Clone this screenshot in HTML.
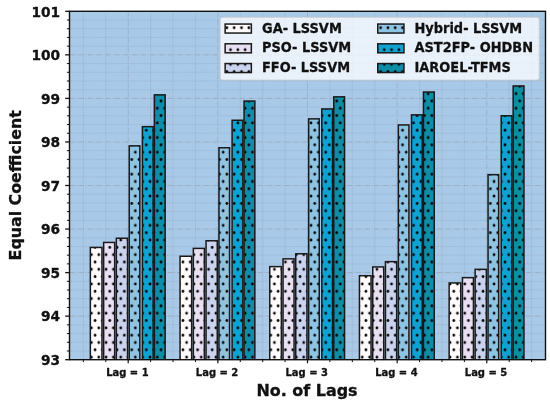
<!DOCTYPE html>
<html lang="en"><head><meta charset="utf-8"><title>Equal Coefficient vs No. of Lags</title>
<style>html,body{margin:0;padding:0;background:#fff}body{width:550px;height:405px;overflow:hidden}text{stroke:#111;stroke-width:.3px;stroke-linejoin:round}</style></head>
<body>
<svg width="550" height="405" viewBox="0 0 550 405" style="display:block;font-family:'DejaVu Sans','Liberation Sans',sans-serif;font-weight:bold">
<defs>
<pattern id="h" patternUnits="userSpaceOnUse" x="3.600" y="5.810" width="7.32" height="14.64"><circle cx="0" cy="0" r="1.35"/><circle cx="7.32" cy="0" r="1.35"/><circle cx="0" cy="14.64" r="1.35"/><circle cx="7.32" cy="14.64" r="1.35"/><circle cx="3.66" cy="7.32" r="1.35"/></pattern>
<clipPath id="ax"><rect x="69.5" y="11.3" width="476.0" height="348.4"/></clipPath>
</defs>
<rect width="550" height="405" fill="#fff"/>
<rect x="69.5" y="11.3" width="476.0" height="348.4" fill="#a9c9e8"/>
<g clip-path="url(#ax)" fill="none">
<path d="M83.37 11.3V359.7" stroke="#707070" stroke-opacity=".5" stroke-width=".6" stroke-dasharray=".6 .95"/>
<path d="M105.79 11.3V359.7" stroke="#707070" stroke-opacity=".5" stroke-width=".6" stroke-dasharray=".6 .95"/>
<path d="M150.61 11.3V359.7" stroke="#707070" stroke-opacity=".5" stroke-width=".6" stroke-dasharray=".6 .95"/>
<path d="M173.02 11.3V359.7" stroke="#707070" stroke-opacity=".5" stroke-width=".6" stroke-dasharray=".6 .95"/>
<path d="M195.44 11.3V359.7" stroke="#707070" stroke-opacity=".5" stroke-width=".6" stroke-dasharray=".6 .95"/>
<path d="M240.26 11.3V359.7" stroke="#707070" stroke-opacity=".5" stroke-width=".6" stroke-dasharray=".6 .95"/>
<path d="M262.68 11.3V359.7" stroke="#707070" stroke-opacity=".5" stroke-width=".6" stroke-dasharray=".6 .95"/>
<path d="M285.09 11.3V359.7" stroke="#707070" stroke-opacity=".5" stroke-width=".6" stroke-dasharray=".6 .95"/>
<path d="M329.91 11.3V359.7" stroke="#707070" stroke-opacity=".5" stroke-width=".6" stroke-dasharray=".6 .95"/>
<path d="M352.32 11.3V359.7" stroke="#707070" stroke-opacity=".5" stroke-width=".6" stroke-dasharray=".6 .95"/>
<path d="M374.74 11.3V359.7" stroke="#707070" stroke-opacity=".5" stroke-width=".6" stroke-dasharray=".6 .95"/>
<path d="M419.56 11.3V359.7" stroke="#707070" stroke-opacity=".5" stroke-width=".6" stroke-dasharray=".6 .95"/>
<path d="M441.98 11.3V359.7" stroke="#707070" stroke-opacity=".5" stroke-width=".6" stroke-dasharray=".6 .95"/>
<path d="M464.39 11.3V359.7" stroke="#707070" stroke-opacity=".5" stroke-width=".6" stroke-dasharray=".6 .95"/>
<path d="M509.21 11.3V359.7" stroke="#707070" stroke-opacity=".5" stroke-width=".6" stroke-dasharray=".6 .95"/>
<path d="M531.62 11.3V359.7" stroke="#707070" stroke-opacity=".5" stroke-width=".6" stroke-dasharray=".6 .95"/>
<path d="M69.5 20.01H545.5" stroke="#707070" stroke-opacity=".5" stroke-width=".6" stroke-dasharray=".6 .95"/>
<path d="M69.5 28.72H545.5" stroke="#707070" stroke-opacity=".5" stroke-width=".6" stroke-dasharray=".6 .95"/>
<path d="M69.5 37.43H545.5" stroke="#707070" stroke-opacity=".5" stroke-width=".6" stroke-dasharray=".6 .95"/>
<path d="M69.5 46.14H545.5" stroke="#707070" stroke-opacity=".5" stroke-width=".6" stroke-dasharray=".6 .95"/>
<path d="M69.5 63.56H545.5" stroke="#707070" stroke-opacity=".5" stroke-width=".6" stroke-dasharray=".6 .95"/>
<path d="M69.5 72.27H545.5" stroke="#707070" stroke-opacity=".5" stroke-width=".6" stroke-dasharray=".6 .95"/>
<path d="M69.5 80.98H545.5" stroke="#707070" stroke-opacity=".5" stroke-width=".6" stroke-dasharray=".6 .95"/>
<path d="M69.5 89.69H545.5" stroke="#707070" stroke-opacity=".5" stroke-width=".6" stroke-dasharray=".6 .95"/>
<path d="M69.5 107.11H545.5" stroke="#707070" stroke-opacity=".5" stroke-width=".6" stroke-dasharray=".6 .95"/>
<path d="M69.5 115.82H545.5" stroke="#707070" stroke-opacity=".5" stroke-width=".6" stroke-dasharray=".6 .95"/>
<path d="M69.5 124.53H545.5" stroke="#707070" stroke-opacity=".5" stroke-width=".6" stroke-dasharray=".6 .95"/>
<path d="M69.5 133.24H545.5" stroke="#707070" stroke-opacity=".5" stroke-width=".6" stroke-dasharray=".6 .95"/>
<path d="M69.5 150.66H545.5" stroke="#707070" stroke-opacity=".5" stroke-width=".6" stroke-dasharray=".6 .95"/>
<path d="M69.5 159.37H545.5" stroke="#707070" stroke-opacity=".5" stroke-width=".6" stroke-dasharray=".6 .95"/>
<path d="M69.5 168.08H545.5" stroke="#707070" stroke-opacity=".5" stroke-width=".6" stroke-dasharray=".6 .95"/>
<path d="M69.5 176.79H545.5" stroke="#707070" stroke-opacity=".5" stroke-width=".6" stroke-dasharray=".6 .95"/>
<path d="M69.5 194.21H545.5" stroke="#707070" stroke-opacity=".5" stroke-width=".6" stroke-dasharray=".6 .95"/>
<path d="M69.5 202.92H545.5" stroke="#707070" stroke-opacity=".5" stroke-width=".6" stroke-dasharray=".6 .95"/>
<path d="M69.5 211.63H545.5" stroke="#707070" stroke-opacity=".5" stroke-width=".6" stroke-dasharray=".6 .95"/>
<path d="M69.5 220.34H545.5" stroke="#707070" stroke-opacity=".5" stroke-width=".6" stroke-dasharray=".6 .95"/>
<path d="M69.5 237.76H545.5" stroke="#707070" stroke-opacity=".5" stroke-width=".6" stroke-dasharray=".6 .95"/>
<path d="M69.5 246.47H545.5" stroke="#707070" stroke-opacity=".5" stroke-width=".6" stroke-dasharray=".6 .95"/>
<path d="M69.5 255.18H545.5" stroke="#707070" stroke-opacity=".5" stroke-width=".6" stroke-dasharray=".6 .95"/>
<path d="M69.5 263.89H545.5" stroke="#707070" stroke-opacity=".5" stroke-width=".6" stroke-dasharray=".6 .95"/>
<path d="M69.5 281.31H545.5" stroke="#707070" stroke-opacity=".5" stroke-width=".6" stroke-dasharray=".6 .95"/>
<path d="M69.5 290.02H545.5" stroke="#707070" stroke-opacity=".5" stroke-width=".6" stroke-dasharray=".6 .95"/>
<path d="M69.5 298.73H545.5" stroke="#707070" stroke-opacity=".5" stroke-width=".6" stroke-dasharray=".6 .95"/>
<path d="M69.5 307.44H545.5" stroke="#707070" stroke-opacity=".5" stroke-width=".6" stroke-dasharray=".6 .95"/>
<path d="M69.5 324.86H545.5" stroke="#707070" stroke-opacity=".5" stroke-width=".6" stroke-dasharray=".6 .95"/>
<path d="M69.5 333.57H545.5" stroke="#707070" stroke-opacity=".5" stroke-width=".6" stroke-dasharray=".6 .95"/>
<path d="M69.5 342.28H545.5" stroke="#707070" stroke-opacity=".5" stroke-width=".6" stroke-dasharray=".6 .95"/>
<path d="M69.5 350.99H545.5" stroke="#707070" stroke-opacity=".5" stroke-width=".6" stroke-dasharray=".6 .95"/>
<path d="M128.20 11.3V359.7" stroke="#7a7a7a" stroke-opacity=".35" stroke-width=".8" stroke-dasharray="5.4 1.35 .85 1.35"/>
<path d="M217.85 11.3V359.7" stroke="#7a7a7a" stroke-opacity=".35" stroke-width=".8" stroke-dasharray="5.4 1.35 .85 1.35"/>
<path d="M307.50 11.3V359.7" stroke="#7a7a7a" stroke-opacity=".35" stroke-width=".8" stroke-dasharray="5.4 1.35 .85 1.35"/>
<path d="M397.15 11.3V359.7" stroke="#7a7a7a" stroke-opacity=".35" stroke-width=".8" stroke-dasharray="5.4 1.35 .85 1.35"/>
<path d="M486.80 11.3V359.7" stroke="#7a7a7a" stroke-opacity=".35" stroke-width=".8" stroke-dasharray="5.4 1.35 .85 1.35"/>
<path d="M69.5 54.85H545.5" stroke="#7a7a7a" stroke-opacity=".42" stroke-width=".8" stroke-dasharray="5.4 1.35 .85 1.35"/>
<path d="M69.5 98.40H545.5" stroke="#7a7a7a" stroke-opacity=".42" stroke-width=".8" stroke-dasharray="5.4 1.35 .85 1.35"/>
<path d="M69.5 141.95H545.5" stroke="#7a7a7a" stroke-opacity=".42" stroke-width=".8" stroke-dasharray="5.4 1.35 .85 1.35"/>
<path d="M69.5 185.50H545.5" stroke="#7a7a7a" stroke-opacity=".42" stroke-width=".8" stroke-dasharray="5.4 1.35 .85 1.35"/>
<path d="M69.5 229.05H545.5" stroke="#7a7a7a" stroke-opacity=".42" stroke-width=".8" stroke-dasharray="5.4 1.35 .85 1.35"/>
<path d="M69.5 272.60H545.5" stroke="#7a7a7a" stroke-opacity=".42" stroke-width=".8" stroke-dasharray="5.4 1.35 .85 1.35"/>
<path d="M69.5 316.15H545.5" stroke="#7a7a7a" stroke-opacity=".42" stroke-width=".8" stroke-dasharray="5.4 1.35 .85 1.35"/>
</g>
<g clip-path="url(#ax)">
<rect x="90.35" y="247.45" width="11.60" height="115.25" fill="#fffafc"/>
<rect x="90.35" y="247.45" width="11.60" height="115.25" fill="url(#h)" stroke="#1a1a1a" stroke-width="1.5"/>
<rect x="103.65" y="242.45" width="11.00" height="120.25" fill="#e9dff2"/>
<rect x="103.65" y="242.45" width="11.00" height="120.25" fill="url(#h)" stroke="#1a1a1a" stroke-width="1.5"/>
<rect x="116.35" y="238.25" width="11.20" height="124.45" fill="#c9d3ee"/>
<rect x="116.35" y="238.25" width="11.20" height="124.45" fill="url(#h)" stroke="#1a1a1a" stroke-width="1.5"/>
<rect x="129.25" y="145.85" width="10.60" height="216.85" fill="#8ec4e3"/>
<rect x="129.25" y="145.85" width="10.60" height="216.85" fill="url(#h)" stroke="#1a1a1a" stroke-width="1.5"/>
<rect x="142.40" y="126.65" width="10.75" height="236.05" fill="#0fa2d0"/>
<rect x="142.40" y="126.65" width="10.75" height="236.05" fill="url(#h)" stroke="#1a1a1a" stroke-width="1.5"/>
<rect x="154.35" y="94.85" width="10.80" height="267.85" fill="#0f8ca6"/>
<rect x="154.35" y="94.85" width="10.80" height="267.85" fill="url(#h)" stroke="#1a1a1a" stroke-width="1.5"/>
<rect x="180.05" y="256.25" width="11.60" height="106.45" fill="#fffafc"/>
<rect x="180.05" y="256.25" width="11.60" height="106.45" fill="url(#h)" stroke="#1a1a1a" stroke-width="1.5"/>
<rect x="193.35" y="248.40" width="11.00" height="114.30" fill="#e9dff2"/>
<rect x="193.35" y="248.40" width="11.00" height="114.30" fill="url(#h)" stroke="#1a1a1a" stroke-width="1.5"/>
<rect x="206.05" y="240.75" width="11.20" height="121.95" fill="#c9d3ee"/>
<rect x="206.05" y="240.75" width="11.20" height="121.95" fill="url(#h)" stroke="#1a1a1a" stroke-width="1.5"/>
<rect x="218.95" y="147.75" width="10.60" height="214.95" fill="#8ec4e3"/>
<rect x="218.95" y="147.75" width="10.60" height="214.95" fill="url(#h)" stroke="#1a1a1a" stroke-width="1.5"/>
<rect x="232.10" y="120.25" width="10.75" height="242.45" fill="#0fa2d0"/>
<rect x="232.10" y="120.25" width="10.75" height="242.45" fill="url(#h)" stroke="#1a1a1a" stroke-width="1.5"/>
<rect x="244.05" y="101.05" width="10.80" height="261.65" fill="#0f8ca6"/>
<rect x="244.05" y="101.05" width="10.80" height="261.65" fill="url(#h)" stroke="#1a1a1a" stroke-width="1.5"/>
<rect x="269.75" y="266.65" width="11.60" height="96.05" fill="#fffafc"/>
<rect x="269.75" y="266.65" width="11.60" height="96.05" fill="url(#h)" stroke="#1a1a1a" stroke-width="1.5"/>
<rect x="283.05" y="258.85" width="11.00" height="103.85" fill="#e9dff2"/>
<rect x="283.05" y="258.85" width="11.00" height="103.85" fill="url(#h)" stroke="#1a1a1a" stroke-width="1.5"/>
<rect x="295.75" y="253.75" width="11.20" height="108.95" fill="#c9d3ee"/>
<rect x="295.75" y="253.75" width="11.20" height="108.95" fill="url(#h)" stroke="#1a1a1a" stroke-width="1.5"/>
<rect x="308.65" y="118.85" width="10.60" height="243.85" fill="#8ec4e3"/>
<rect x="308.65" y="118.85" width="10.60" height="243.85" fill="url(#h)" stroke="#1a1a1a" stroke-width="1.5"/>
<rect x="321.80" y="108.95" width="10.75" height="253.75" fill="#0fa2d0"/>
<rect x="321.80" y="108.95" width="10.75" height="253.75" fill="url(#h)" stroke="#1a1a1a" stroke-width="1.5"/>
<rect x="333.75" y="96.85" width="10.80" height="265.85" fill="#0f8ca6"/>
<rect x="333.75" y="96.85" width="10.80" height="265.85" fill="url(#h)" stroke="#1a1a1a" stroke-width="1.5"/>
<rect x="359.45" y="275.75" width="11.60" height="86.95" fill="#fffafc"/>
<rect x="359.45" y="275.75" width="11.60" height="86.95" fill="url(#h)" stroke="#1a1a1a" stroke-width="1.5"/>
<rect x="372.75" y="266.95" width="11.00" height="95.75" fill="#e9dff2"/>
<rect x="372.75" y="266.95" width="11.00" height="95.75" fill="url(#h)" stroke="#1a1a1a" stroke-width="1.5"/>
<rect x="385.45" y="261.65" width="11.20" height="101.05" fill="#c9d3ee"/>
<rect x="385.45" y="261.65" width="11.20" height="101.05" fill="url(#h)" stroke="#1a1a1a" stroke-width="1.5"/>
<rect x="398.35" y="124.95" width="10.60" height="237.75" fill="#8ec4e3"/>
<rect x="398.35" y="124.95" width="10.60" height="237.75" fill="url(#h)" stroke="#1a1a1a" stroke-width="1.5"/>
<rect x="411.50" y="114.85" width="10.75" height="247.85" fill="#0fa2d0"/>
<rect x="411.50" y="114.85" width="10.75" height="247.85" fill="url(#h)" stroke="#1a1a1a" stroke-width="1.5"/>
<rect x="423.45" y="92.00" width="10.80" height="270.70" fill="#0f8ca6"/>
<rect x="423.45" y="92.00" width="10.80" height="270.70" fill="url(#h)" stroke="#1a1a1a" stroke-width="1.5"/>
<rect x="449.15" y="282.95" width="11.60" height="79.75" fill="#fffafc"/>
<rect x="449.15" y="282.95" width="11.60" height="79.75" fill="url(#h)" stroke="#1a1a1a" stroke-width="1.5"/>
<rect x="462.45" y="277.65" width="11.00" height="85.05" fill="#e9dff2"/>
<rect x="462.45" y="277.65" width="11.00" height="85.05" fill="url(#h)" stroke="#1a1a1a" stroke-width="1.5"/>
<rect x="475.15" y="269.35" width="11.20" height="93.35" fill="#c9d3ee"/>
<rect x="475.15" y="269.35" width="11.20" height="93.35" fill="url(#h)" stroke="#1a1a1a" stroke-width="1.5"/>
<rect x="488.05" y="174.65" width="10.60" height="188.05" fill="#8ec4e3"/>
<rect x="488.05" y="174.65" width="10.60" height="188.05" fill="url(#h)" stroke="#1a1a1a" stroke-width="1.5"/>
<rect x="501.20" y="115.75" width="10.75" height="246.95" fill="#0fa2d0"/>
<rect x="501.20" y="115.75" width="10.75" height="246.95" fill="url(#h)" stroke="#1a1a1a" stroke-width="1.5"/>
<rect x="513.15" y="85.95" width="10.80" height="276.75" fill="#0f8ca6"/>
<rect x="513.15" y="85.95" width="10.80" height="276.75" fill="url(#h)" stroke="#1a1a1a" stroke-width="1.5"/>
</g>
<rect x="69.5" y="11.3" width="476.0" height="348.4" fill="none" stroke="#111" stroke-width="1.4"/>
<g stroke="#111" fill="none">
<path d="M65.20 11.30H69.5" stroke-width="1.3"/>
<path d="M65.20 54.85H69.5" stroke-width="1.3"/>
<path d="M65.20 98.40H69.5" stroke-width="1.3"/>
<path d="M65.20 141.95H69.5" stroke-width="1.3"/>
<path d="M65.20 185.50H69.5" stroke-width="1.3"/>
<path d="M65.20 229.05H69.5" stroke-width="1.3"/>
<path d="M65.20 272.60H69.5" stroke-width="1.3"/>
<path d="M65.20 316.15H69.5" stroke-width="1.3"/>
<path d="M65.20 359.70H69.5" stroke-width="1.3"/>
<path d="M66.90 20.01H69.5" stroke-width="1"/>
<path d="M66.90 28.72H69.5" stroke-width="1"/>
<path d="M66.90 37.43H69.5" stroke-width="1"/>
<path d="M66.90 46.14H69.5" stroke-width="1"/>
<path d="M66.90 63.56H69.5" stroke-width="1"/>
<path d="M66.90 72.27H69.5" stroke-width="1"/>
<path d="M66.90 80.98H69.5" stroke-width="1"/>
<path d="M66.90 89.69H69.5" stroke-width="1"/>
<path d="M66.90 107.11H69.5" stroke-width="1"/>
<path d="M66.90 115.82H69.5" stroke-width="1"/>
<path d="M66.90 124.53H69.5" stroke-width="1"/>
<path d="M66.90 133.24H69.5" stroke-width="1"/>
<path d="M66.90 150.66H69.5" stroke-width="1"/>
<path d="M66.90 159.37H69.5" stroke-width="1"/>
<path d="M66.90 168.08H69.5" stroke-width="1"/>
<path d="M66.90 176.79H69.5" stroke-width="1"/>
<path d="M66.90 194.21H69.5" stroke-width="1"/>
<path d="M66.90 202.92H69.5" stroke-width="1"/>
<path d="M66.90 211.63H69.5" stroke-width="1"/>
<path d="M66.90 220.34H69.5" stroke-width="1"/>
<path d="M66.90 237.76H69.5" stroke-width="1"/>
<path d="M66.90 246.47H69.5" stroke-width="1"/>
<path d="M66.90 255.18H69.5" stroke-width="1"/>
<path d="M66.90 263.89H69.5" stroke-width="1"/>
<path d="M66.90 281.31H69.5" stroke-width="1"/>
<path d="M66.90 290.02H69.5" stroke-width="1"/>
<path d="M66.90 298.73H69.5" stroke-width="1"/>
<path d="M66.90 307.44H69.5" stroke-width="1"/>
<path d="M66.90 324.86H69.5" stroke-width="1"/>
<path d="M66.90 333.57H69.5" stroke-width="1"/>
<path d="M66.90 342.28H69.5" stroke-width="1"/>
<path d="M66.90 350.99H69.5" stroke-width="1"/>
<path d="M128.20 359.7V363.30" stroke-width="1.2"/>
<path d="M217.85 359.7V363.30" stroke-width="1.2"/>
<path d="M307.50 359.7V363.30" stroke-width="1.2"/>
<path d="M397.15 359.7V363.30" stroke-width="1.2"/>
<path d="M486.80 359.7V363.30" stroke-width="1.2"/>
<path d="M83.37 359.7V362.10" stroke-width="1"/>
<path d="M105.79 359.7V362.10" stroke-width="1"/>
<path d="M150.61 359.7V362.10" stroke-width="1"/>
<path d="M173.02 359.7V362.10" stroke-width="1"/>
<path d="M195.44 359.7V362.10" stroke-width="1"/>
<path d="M240.26 359.7V362.10" stroke-width="1"/>
<path d="M262.68 359.7V362.10" stroke-width="1"/>
<path d="M285.09 359.7V362.10" stroke-width="1"/>
<path d="M329.91 359.7V362.10" stroke-width="1"/>
<path d="M352.32 359.7V362.10" stroke-width="1"/>
<path d="M374.74 359.7V362.10" stroke-width="1"/>
<path d="M419.56 359.7V362.10" stroke-width="1"/>
<path d="M441.98 359.7V362.10" stroke-width="1"/>
<path d="M464.39 359.7V362.10" stroke-width="1"/>
<path d="M509.21 359.7V362.10" stroke-width="1"/>
<path d="M531.62 359.7V362.10" stroke-width="1"/>
</g>
<g font-size="14.5" text-anchor="end" fill="#111">
<text transform="translate(60.2 16.50) scale(.95 1)">101</text>
<text transform="translate(60.2 60.05) scale(.95 1)">100</text>
<text transform="translate(60.2 103.60) scale(.95 1)">99</text>
<text transform="translate(60.2 147.15) scale(.95 1)">98</text>
<text transform="translate(60.2 190.70) scale(.95 1)">97</text>
<text transform="translate(60.2 234.25) scale(.95 1)">96</text>
<text transform="translate(60.2 277.80) scale(.95 1)">95</text>
<text transform="translate(60.2 321.35) scale(.95 1)">94</text>
<text transform="translate(60.2 364.90) scale(.95 1)">93</text>
</g>
<g font-size="9.8" text-anchor="middle" fill="#111">
<text transform="translate(127.40 375.9) scale(1.02 1)">Lag = 1</text>
<text transform="translate(217.05 375.9) scale(1.02 1)">Lag = 2</text>
<text transform="translate(306.70 375.9) scale(1.02 1)">Lag = 3</text>
<text transform="translate(396.35 375.9) scale(1.02 1)">Lag = 4</text>
<text transform="translate(486.00 375.9) scale(1.02 1)">Lag = 5</text>
</g>
<text transform="translate(307 396.1) scale(1.037 1)" font-size="15.4" text-anchor="middle" fill="#111">No. of Lags</text>
<text transform="translate(21.4 185.3) rotate(-90) scale(1.028 1)" font-size="15.4" text-anchor="middle" fill="#111">Equal Coefficient</text>
<rect x="220.2" y="17.2" width="319.1" height="62.9" rx="2.5" fill="#fdfdff" fill-opacity=".77" stroke="#c8c8c8" stroke-opacity=".8" stroke-width="1"/>
<rect x="225.15" y="24.05" width="26.20" height="9.00" fill="#fffafc"/>
<rect x="225.15" y="24.05" width="26.20" height="9.00" fill="url(#h)" stroke="#1a1a1a" stroke-width="1.5"/>
<text transform="translate(262.0 32.50) scale(.9 1)" font-size="14.4" fill="#111">GA- LSSVM</text>
<rect x="225.15" y="43.80" width="26.20" height="9.00" fill="#e9dff2"/>
<rect x="225.15" y="43.80" width="26.20" height="9.00" fill="url(#h)" stroke="#1a1a1a" stroke-width="1.5"/>
<text transform="translate(262.0 52.25) scale(.9 1)" font-size="14.4" fill="#111">PSO- LSSVM</text>
<rect x="225.15" y="63.55" width="26.20" height="9.00" fill="#c9d3ee"/>
<rect x="225.15" y="63.55" width="26.20" height="9.00" fill="url(#h)" stroke="#1a1a1a" stroke-width="1.5"/>
<text transform="translate(262.0 72.00) scale(.9 1)" font-size="14.4" fill="#111">FFO- LSSVM</text>
<rect x="377.75" y="24.05" width="26.20" height="9.00" fill="#8ec4e3"/>
<rect x="377.75" y="24.05" width="26.20" height="9.00" fill="url(#h)" stroke="#1a1a1a" stroke-width="1.5"/>
<text transform="translate(414.5 32.50) scale(.9 1)" font-size="14.4" fill="#111">Hybrid- LSSVM</text>
<rect x="377.75" y="43.80" width="26.20" height="9.00" fill="#0fa2d0"/>
<rect x="377.75" y="43.80" width="26.20" height="9.00" fill="url(#h)" stroke="#1a1a1a" stroke-width="1.5"/>
<text transform="translate(414.5 52.25) scale(.9 1)" font-size="14.4" fill="#111">AST2FP- OHDBN</text>
<rect x="377.75" y="63.55" width="26.20" height="9.00" fill="#0f8ca6"/>
<rect x="377.75" y="63.55" width="26.20" height="9.00" fill="url(#h)" stroke="#1a1a1a" stroke-width="1.5"/>
<text transform="translate(414.5 72.00) scale(.9 1)" font-size="14.4" fill="#111">IAROEL-TFMS</text>
</svg>
</body></html>
